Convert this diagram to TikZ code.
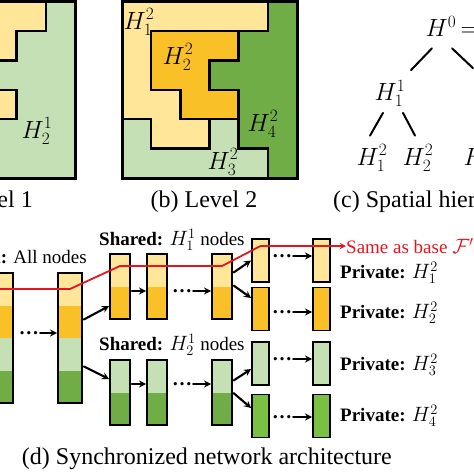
\documentclass[tikz,border=0pt]{standalone}
\usepackage{fontspec}
\setmainfont{Liberation Serif}
\usetikzlibrary{calc,positioning}
\definecolor{cLY}{RGB}{255,230,153}
\definecolor{cOr}{RGB}{250,192,40}
\definecolor{cLG}{RGB}{197,224,180}
\definecolor{cDG}{RGB}{112,173,71}
\definecolor{cBG}{RGB}{122,192,66}
\definecolor{cRed}{RGB}{230,20,30}
\newcommand{\HH}[2]{{\fontsize{21.5}{22}\selectfont$H^{#1}_{#2}$}}
\begin{document}
\begin{tikzpicture}[x=1pt,y=-1pt,>=stealth, line join=round, line cap=round,
	region/.style={draw=black,line width=2.4pt,line join=miter},
	bigbar/.style={draw,line width=1.8pt,line join=miter,inner sep=0pt,minimum width=24pt,minimum height=130pt},
	midbar/.style={draw,line width=1.8pt,line join=miter,inner sep=0pt,minimum width=20pt,minimum height=65pt},
	smallbar/.style={draw,line width=1.8pt,line join=miter,inner sep=0pt,minimum width=17pt,minimum height=43pt},
	lbl/.style={font=\fontsize{25}{28}\selectfont,inner sep=0pt},
	txt/.style={font=\fontsize{19}{22}\selectfont,inner sep=0pt},
	captxt/.style={font=\fontsize{24}{28}\selectfont,inner sep=0pt},
	dots/.style={font=\fontsize{20}{22}\selectfont\bfseries,inner sep=0pt},
	arr/.style={->,line width=2.1pt,shorten <=1pt},
	redline/.style={->,draw=cRed,line width=1.8pt,line join=round},
	edge/.style={line width=2pt}]
	\def\cs{29.17} \def\cr{29.42} % grid cell
	\useasboundingbox (0,0) rectangle (474,474);
	\clip (0,0) rectangle (474,474);
	% (a) level 1
	\begin{scope}[shift={(-100,1.5)},x=\cs pt,y=-\cr pt]
		\filldraw[region,fill=cLG] (0,0) rectangle (6,6);
		\filldraw[region,fill=cLY] (0,0)--(5,0)--(5,1)--(4,1)--(4,2)--(3,2)--(3,3)--(4,3)--(4,4)--(3,4)--(3,5)--(1,5)--(1,4)--(0,4)--cycle;
		\draw[line width=3pt,line join=miter] (0,0) rectangle (6,6);
	\end{scope}
	% (b) level 2
	\begin{scope}[shift={(122,1.5)},x=\cs pt,y=-\cr pt]
		\filldraw[region,fill=cLY] (0,0)--(5,0)--(5,1)--(1,1)--(1,3)--(2,3)--(2,4)--(3,4)--(3,5)--(1,5)--(1,4)--(0,4)--cycle;
		\filldraw[region,fill=cOr] (1,1)--(4,1)--(4,2)--(3,2)--(3,3)--(4,3)--(4,4)--(2,4)--(2,3)--(1,3)--cycle;
		\filldraw[region,fill=cDG] (5,0)--(6,0)--(6,6)--(5,6)--(5,5)--(4,5)--(4,3)--(3,3)--(3,2)--(4,2)--(4,1)--(5,1)--cycle;
		\filldraw[region,fill=cLG] (0,4)--(1,4)--(1,5)--(3,5)--(3,4)--(4,4)--(4,5)--(5,5)--(5,6)--(0,6)--cycle;
		\draw[line width=3pt,line join=miter] (0,0) rectangle (6,6);
	\end{scope}
	\path
	(37,131) node[lbl] (a21) {$H^1_2$}
	(139,22) node[lbl] (b12) {$H^2_1$}
	(178,57) node[lbl] (b22) {$H^2_2$}
	(223,162) node[lbl] (b32) {$H^2_3$}
	(263,124) node[lbl] (b42) {$H^2_4$}
	;
	% (c) tree
	\node[lbl] (h0) at (441,26) {$H^0$};
	\node[lbl,right=4pt of h0.base east,anchor=base west] (eq) {$=$};
	\node[lbl] (h11) at (390,93.5) {$H^1_1$};
	\node[lbl] (h21) at (494,93.5) {$H^1_2$};
	\node[lbl] (h12) at (372,158) {$H^2_1$};
	\node[lbl] (h22) at (418,158) {$H^2_2$};
	\node[lbl] (h32) at (479,158) {$H^2_3$};
	\node[lbl] (h42) at (526,158) {$H^2_4$};
	\draw[edge] ($(h0.south)+(-9,12)$) -- ($(h11.north)+(21,-10)$);
	\draw[edge] ($(h0.south)+(11,12)$) -- ($(h21.north)+(-21,-12)$);
	\draw[edge] ($(h11.south)+(-7,6)$) -- ($(h12.north)+(-2,-9)$);
	\draw[edge] ($(h11.south)+(13,6)$) -- ($(h22.north)+(-3,-9)$);
	\draw[edge] ($(h21.south)+(-7,6)$) -- ($(h32.north)+(-2,-9)$);
	\draw[edge] ($(h21.south)+(13,6)$) -- ($(h42.north)+(-3,-9)$);
	% captions
	\node[captxt,anchor=base east] (capa) at (33,207) {(a) Level 1};
	\node[captxt,anchor=base] (capb) at (204,207) {(b) Level 2};
	\node[captxt,anchor=base west] (capc) at (333,207) {(c) Spatial hierarchy};
	\node[captxt,anchor=base east] (capd) at (392,464) {(d) Synchronized network architecture};
	% (d) network
	\foreach \x/\n in {1/a,70/b}{
		\foreach \c [count=\k from 0] in {cLY,cOr,cLG,cDG}
			\fill[\c] (\x-12,273+32.5*\k) rectangle (\x+12,305.5+32.5*\k);
		\node[bigbar] (s1\n) at (\x,338) {};
	}
	\foreach \x/\n in {120/1,157/2,222/3}{
		\fill[cLY] (\x-10,254) rectangle (\x+10,286.5);
		\fill[cOr] (\x-10,286.5) rectangle (\x+10,319);
		\node[midbar] (ua\n) at (\x,286.5) {};
		\fill[cLG] (\x-10,360) rectangle (\x+10,392.5);
		\fill[cDG] (\x-10,392.5) rectangle (\x+10,425);
		\node[midbar] (la\n) at (\x,392.5) {};
	}
	\foreach \y/\c/\n/\ya in {260.5/cLY/1/256,309/cOr/2/312,363.5/cLG/3/359,416/cBG/4/417}{
		\node[smallbar,fill=\c] (pa\n) at (260.5,\y) {};
		\node[smallbar,fill=\c] (pb\n) at (321.5,\y) {};
		\node[dots] (pd\n) at (282,\ya) {…};
		\draw[arr] (pd\n) -- (pb\n.west |- pd\n);
	}
	\node[dots] (sd) at (29,333) {…};
	\draw[arr] (sd) -- (s1b.west |- sd);
	\node[dots] (ud) at (182,291) {…};
	\draw[arr] (ud) -- (ua3.west |- ud);
	\node[dots] (ld) at (182,384) {…};
	\draw[arr] (ld) -- (la3.west |- ld);
	\draw[arr] ([yshift=-4.5pt]ua1.east) -- ([yshift=-4.5pt]ua2.west);
	\draw[arr] ([yshift=8.5pt]la1.east) -- ([yshift=8.5pt]la2.west);
	\draw[arr] ([yshift=18pt]s1b.east) -- ([yshift=-19.5pt]ua1.west);
	\draw[arr] ([yshift=-28pt]s1b.east) -- ([yshift=13.5pt]la1.west);
	\draw[arr] ([yshift=13.5pt]ua3.east) -- (pa1.west);
	\draw[arr] ([yshift=1.5pt]ua3.east) -- ([yshift=11pt]pa2.west);
	\draw[arr] ([yshift=11.5pt]la3.east) -- ([yshift=-5.5pt]pa3.west);
	\draw[arr] (la3.east) -- ([yshift=8pt]pa4.west);
	% labels
	\node[txt,anchor=east] (sall) at (87,257) {\textbf{Shared:} All nodes};
	\node[txt,anchor=west] (sh1) at (99,240) {\textbf{Shared:} \HH{1}{1} nodes};
	\node[txt,anchor=west] (sh2) at (99,345) {\textbf{Shared:} \HH{1}{2} nodes};
	\foreach \y/\n in {273/1,313/2,365/3,416/4}
		\node[txt,anchor=west] (pl\n) at (340,\y) {\textbf{Private:} \HH{2}{\n}};
	% same path
	\coordinate (rs) at (-20,289);
	\node[txt,text=cRed,anchor=west] (same) at (346,246) {Same as base {\fontsize{21.5}{22}\selectfont$\mathcal{F}'$}};
	\draw[redline] (rs) -- (s1b.center |- rs) -- (ua1.center |- 0,266) -- (ua3.center |- 0,266) -- (pa1.center |- same.west) -- (same.west);
\end{tikzpicture}
\end{document}
